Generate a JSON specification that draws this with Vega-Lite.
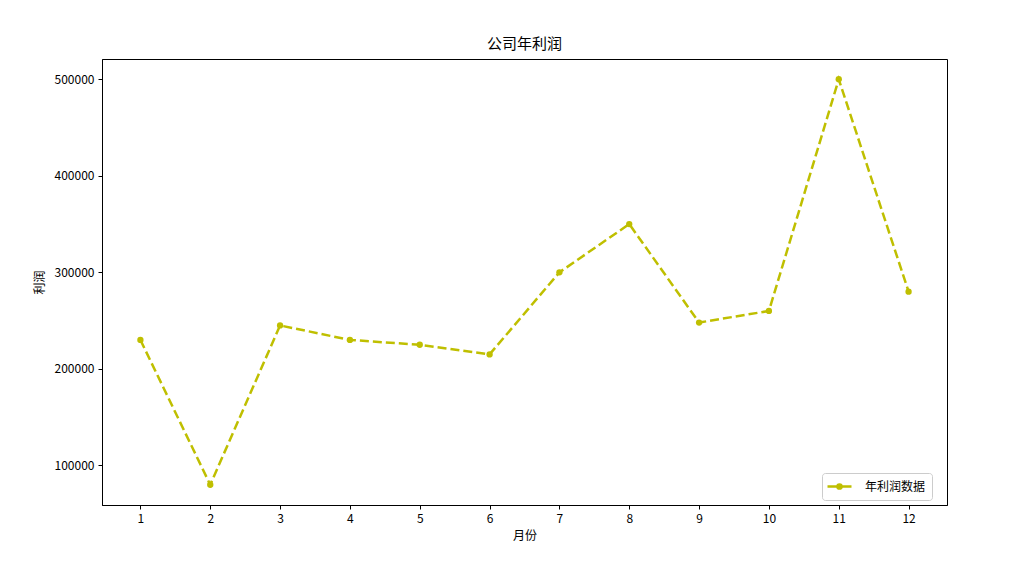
{
  "$schema": "https://vega.github.io/schema/vega-lite/v6.json",
  "width": 845,
  "height": 446,
  "autosize": {"type": "none"},
  "padding": {"left": 102, "top": 59, "right": 85, "bottom": 56},
  "background": "white",
  "config": {
    "font": "Noto Sans CJK SC",
    "view": {"stroke": "black", "strokeWidth": 1},
    "axis": {"grid": false, "domainColor": "black", "tickColor": "black", "labelColor": "black", "titleColor": "black", "labelFontSize": 12, "titleFontSize": 12, "titleFontWeight": "normal", "tickSize": 4, "labelPadding": 4}
  },
  "title": {"text": "公司年利润", "fontSize": 15, "fontWeight": "normal", "color": "black", "offset": 7, "anchor": "middle"},
  "data": {"values": [
    {"月份": 1, "利润": 230000, "series": "年利润数据"},
    {"月份": 2, "利润": 80000, "series": "年利润数据"},
    {"月份": 3, "利润": 245000, "series": "年利润数据"},
    {"月份": 4, "利润": 230000, "series": "年利润数据"},
    {"月份": 5, "利润": 225000, "series": "年利润数据"},
    {"月份": 6, "利润": 215000, "series": "年利润数据"},
    {"月份": 7, "利润": 300000, "series": "年利润数据"},
    {"月份": 8, "利润": 350000, "series": "年利润数据"},
    {"月份": 9, "利润": 248000, "series": "年利润数据"},
    {"月份": 10, "利润": 260000, "series": "年利润数据"},
    {"月份": 11, "利润": 500000, "series": "年利润数据"},
    {"月份": 12, "利润": 280000, "series": "年利润数据"}
  ]},
  "mark": {"type": "line", "strokeWidth": 2.5, "strokeDash": [9, 4], "point": {"filled": true, "size": 40, "opacity": 1}},
  "encoding": {
    "x": {"field": "月份", "type": "quantitative", "scale": {"domain": [0.45, 12.55], "nice": false, "zero": false},
      "axis": {"values": [1,2,3,4,5,6,7,8,9,10,11,12], "format": "d", "title": "月份", "titlePadding": 6}},
    "y": {"field": "利润", "type": "quantitative", "scale": {"domain": [59000, 521000], "nice": false, "zero": false},
      "axis": {"values": [100000, 200000, 300000, 400000, 500000], "format": "d", "title": "利润", "titlePadding": 8}},
    "color": {"field": "series", "type": "nominal", "scale": {"range": ["#bfbf00"]},
      "legend": {"title": null, "orient": "none", "legendX": 720, "legendY": 414, "fillColor": "white", "strokeColor": "#cccccc", "cornerRadius": 3, "padding": 6, "symbolType": "M-2,0H2M-0.35,0A0.35,0.35 0 1,0 0.35,0A0.35,0.35 0 1,0 -0.35,0", "symbolSize": 144, "symbolStrokeWidth": 2.5, "symbolFillColor": "#bfbf00", "symbolStrokeColor": "#bfbf00", "labelFontSize": 12, "labelColor": "black", "labelOffset": 18, "symbolOffset": 4}}
  }
}
